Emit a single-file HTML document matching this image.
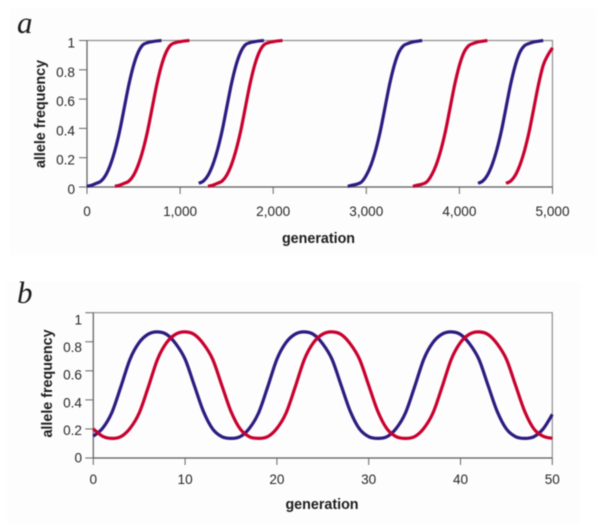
<!DOCTYPE html>
<html lang="en">
<head>
<meta charset="utf-8">
<title>Allele frequency charts</title>
<style>
html,body{margin:0;padding:0;background:#fff;width:600px;height:524px;overflow:hidden}
svg{display:block;filter:blur(0.4px)}
text{font-family:"Liberation Sans",Arial,sans-serif;fill:#262626}
.tick{font-size:13.6px}
.title{font-size:14.3px;font-weight:bold;fill:#1c1c1c}
.panel{font-family:"Liberation Serif",serif;font-style:italic;font-size:31px;fill:#1a1a1a}
</style>
</head>
<body>
<svg id="figure" xmlns="http://www.w3.org/2000/svg" width="600" height="524" viewBox="0 0 600 524">
  <rect x="10" y="8" width="587" height="247" fill="#fdfdfd"/>
  <rect x="7" y="282" width="574" height="242" fill="#fdfdfd"/>
  <text class="panel" x="17" y="33">a</text>
  <text class="panel" x="17" y="303">b</text>
  <text class="title" x="318.5" y="243" text-anchor="middle">generation</text>
  <text class="title" transform="translate(45 114) rotate(-90)" text-anchor="middle">allele frequency</text>
  <text class="title" x="322" y="509" text-anchor="middle">generation</text>
  <text class="title" transform="translate(52 383.5) rotate(-90)" text-anchor="middle">allele frequency</text>
</svg>
<script>
// Panel a: each sweep lists its first generation and frequencies every 50 generations
const aStep = 50;
const aXTicks = [0, 1000, 2000, 3000, 4000, 5000];
const aXTickLabels = ['0', '1,000', '2,000', '3,000', '4,000', '5,000'];
const aYTicks = [0, 0.2, 0.4, 0.6, 0.8, 1];
const aYTickLabels = ['0', '0.2', '0.4', '0.6', '0.8', '1'];

const aBlueStarts = [0, 1200, 2800, 4200];
const aBlue1 = [0.005, 0.012, 0.025, 0.04, 0.08, 0.15, 0.25, 0.38, 0.54, 0.7, 0.83, 0.92, 0.97, 0.985, 0.992, 0.997, 1];
const aBlue2 = [0.025, 0.04, 0.08, 0.15, 0.25, 0.38, 0.54, 0.7, 0.83, 0.92, 0.97, 0.985, 0.992, 0.997, 1];
const aBlue3 = [0.005, 0.012, 0.02, 0.035, 0.08, 0.15, 0.25, 0.38, 0.54, 0.7, 0.83, 0.92, 0.965, 0.98, 0.99, 0.995, 1];
const aBlue4 = [0.025, 0.04, 0.08, 0.15, 0.25, 0.38, 0.54, 0.7, 0.83, 0.92, 0.965, 0.98, 0.99, 0.995, 1];

const aRedStarts = [300, 1300, 3500, 4500];
const aRed1 = [0.005, 0.012, 0.025, 0.04, 0.08, 0.15, 0.25, 0.38, 0.54, 0.7, 0.83, 0.92, 0.97, 0.985, 0.992, 0.997, 1];
const aRed2 = [0.005, 0.012, 0.025, 0.04, 0.08, 0.15, 0.25, 0.38, 0.54, 0.7, 0.83, 0.92, 0.97, 0.985, 0.992, 0.997, 1];
const aRed3 = [0.005, 0.012, 0.02, 0.035, 0.08, 0.15, 0.25, 0.38, 0.54, 0.7, 0.83, 0.92, 0.965, 0.98, 0.99, 0.995, 1];
const aRed4 = [0.025, 0.04, 0.08, 0.15, 0.25, 0.38, 0.54, 0.7, 0.83, 0.9, 0.95];

// Panel b: frequency at each generation 0..50
const bXTicks = [0, 10, 20, 30, 40, 50];
const bXTickLabels = ['0', '10', '20', '30', '40', '50'];
const bYTicks = [0, 0.2, 0.4, 0.6, 0.8, 1];
const bYTickLabels = ['0', '0.2', '0.4', '0.6', '0.8', '1'];
const bBlue = [0.15, 0.204, 0.31, 0.49, 0.68, 0.795, 0.853, 0.868, 0.85, 0.785, 0.68, 0.5, 0.32, 0.2, 0.147, 0.135, 0.147, 0.204, 0.31, 0.49, 0.68, 0.795, 0.853, 0.868, 0.85, 0.785, 0.68, 0.5, 0.32, 0.2, 0.147, 0.135, 0.147, 0.204, 0.31, 0.49, 0.68, 0.795, 0.853, 0.868, 0.85, 0.785, 0.68, 0.5, 0.32, 0.2, 0.147, 0.135, 0.147, 0.2, 0.3];
const bRed = [0.2, 0.15, 0.135, 0.147, 0.204, 0.31, 0.49, 0.68, 0.795, 0.853, 0.868, 0.85, 0.785, 0.68, 0.5, 0.32, 0.2, 0.147, 0.135, 0.147, 0.204, 0.31, 0.49, 0.68, 0.795, 0.853, 0.868, 0.85, 0.785, 0.68, 0.5, 0.32, 0.2, 0.147, 0.135, 0.147, 0.204, 0.31, 0.49, 0.68, 0.795, 0.853, 0.868, 0.85, 0.785, 0.68, 0.5, 0.32, 0.2, 0.15, 0.135];

const BLUE = '#2d1a80';
const RED = '#c8002e';
const svg = document.getElementById('figure');
const NS = 'http://www.w3.org/2000/svg';

function make(tag, attrs) {
  const el = document.createElementNS(NS, tag);
  for (const k in attrs) el.setAttribute(k, attrs[k]);
  svg.appendChild(el);
  return el;
}

// Axis functions
const ax = v => 87 + (v / 5000) * 465.5;
const ay = v => 187 - v * 146.5;
const bx = v => 93.3 + (v / 50) * 459;
const by = v => 458 - v * 145.3;
const bLabelY = v => 457.5 - v * 138;

// Smooth curve through the points, as the original chart's smoothed lines do
function smoothPath(xs, ys) {
  let d = 'M' + xs[0].toFixed(2) + ' ' + ys[0].toFixed(2);
  const n = xs.length;
  for (let i = 0; i < n - 1; i++) {
    const p0 = Math.max(i - 1, 0), p3 = Math.min(i + 2, n - 1);
    const c1x = xs[i] + (xs[i + 1] - xs[p0]) / 6;
    const c1y = ys[i] + (ys[i + 1] - ys[p0]) / 6;
    const c2x = xs[i + 1] - (xs[p3] - xs[i]) / 6;
    const c2y = ys[i + 1] - (ys[p3] - ys[i]) / 6;
    d += 'C' + c1x.toFixed(2) + ' ' + c1y.toFixed(2) + ' ' + c2x.toFixed(2) + ' ' + c2y.toFixed(2) + ' ' + xs[i + 1].toFixed(2) + ' ' + ys[i + 1].toFixed(2);
  }
  return d;
}

function drawLine(xs, ys, color, name) {
  const el = make('path', {d: smoothPath(xs, ys), fill: 'none', stroke: color, 'stroke-width': 3.2, 'stroke-linejoin': 'round', 'stroke-linecap': 'butt'});
  
  
}

function drawFrame(x0, x1, y0, y1, prefix) {
  const box = make('path', {d: 'M' + x0 + ' ' + y1 + 'H' + x1 + 'V' + y0, fill: 'none', stroke: '#8f8f8f', 'stroke-width': 1.2});
  
  
  const axes = make('path', {d: 'M' + x0 + ' ' + y1 + 'V' + y0 + 'H' + x1, fill: 'none', stroke: '#5a5a5a', 'stroke-width': 1.2});
  
  
}

function drawXTicks(ticks, labels, xf, y0, len, baseline, prefix) {
  ticks.forEach((t, i) => {
    const x = xf(t);
    const m = make('line', {x1: x, x2: x, y1: y0, y2: y0 + len, stroke: '#666', 'stroke-width': 1});
    
    
    const l = make('text', {x: x, y: baseline, 'text-anchor': 'middle', class: 'tick'});
    
    
    l.textContent = labels[i];
  });
}

function drawYTicks(ticks, labels, yf, labelYf, x0, len, labelRight, prefix) {
  ticks.forEach((t, i) => {
    const y = yf(t);
    const m = make('line', {x1: x0 - len, x2: x0, y1: y, y2: y, stroke: '#666', 'stroke-width': 1});
    
    
    const l = make('text', {x: labelRight, y: labelYf(t) + 5, 'text-anchor': 'end', class: 'tick'});
    
    
    l.textContent = labels[i];
  });
}

function drawSweeps(starts, sets, color, name) {
  sets.forEach((vals, s) => {
    const xs = vals.map((_, i) => ax(starts[s] + i * aStep));
    const ys = vals.map(ay);
    drawLine(xs, ys, color, name + '-sweep-' + (s + 1));
  });
}

// Panel a
drawFrame(ax(0), ax(5000), ay(0), ay(1), 'panel-a');
drawXTicks(aXTicks, aXTickLabels, ax, ay(0), 7, 216, 'panel-a');
drawYTicks(aYTicks, aYTickLabels, ay, v => ay(v) + 2, ax(0), 8, 75, 'panel-a');
drawSweeps(aBlueStarts, [aBlue1, aBlue2, aBlue3, aBlue4], BLUE, 'panel-a-blue');
drawSweeps(aRedStarts, [aRed1, aRed2, aRed3, aRed4], RED, 'panel-a-red');

// Panel b
drawFrame(bx(0), bx(50), by(0), by(1), 'panel-b');
drawXTicks(bXTicks, bXTickLabels, bx, by(0), 7, 484, 'panel-b');
drawYTicks(bYTicks, bYTickLabels, by, bLabelY, bx(0), 8, 82, 'panel-b');
drawLine(bBlue.map((_, i) => bx(i)), bBlue.map(by), BLUE, 'panel-b-blue-series');
drawLine(bRed.map((_, i) => bx(i)), bRed.map(by), RED, 'panel-b-red-series');
</script>
</body>
</html>
